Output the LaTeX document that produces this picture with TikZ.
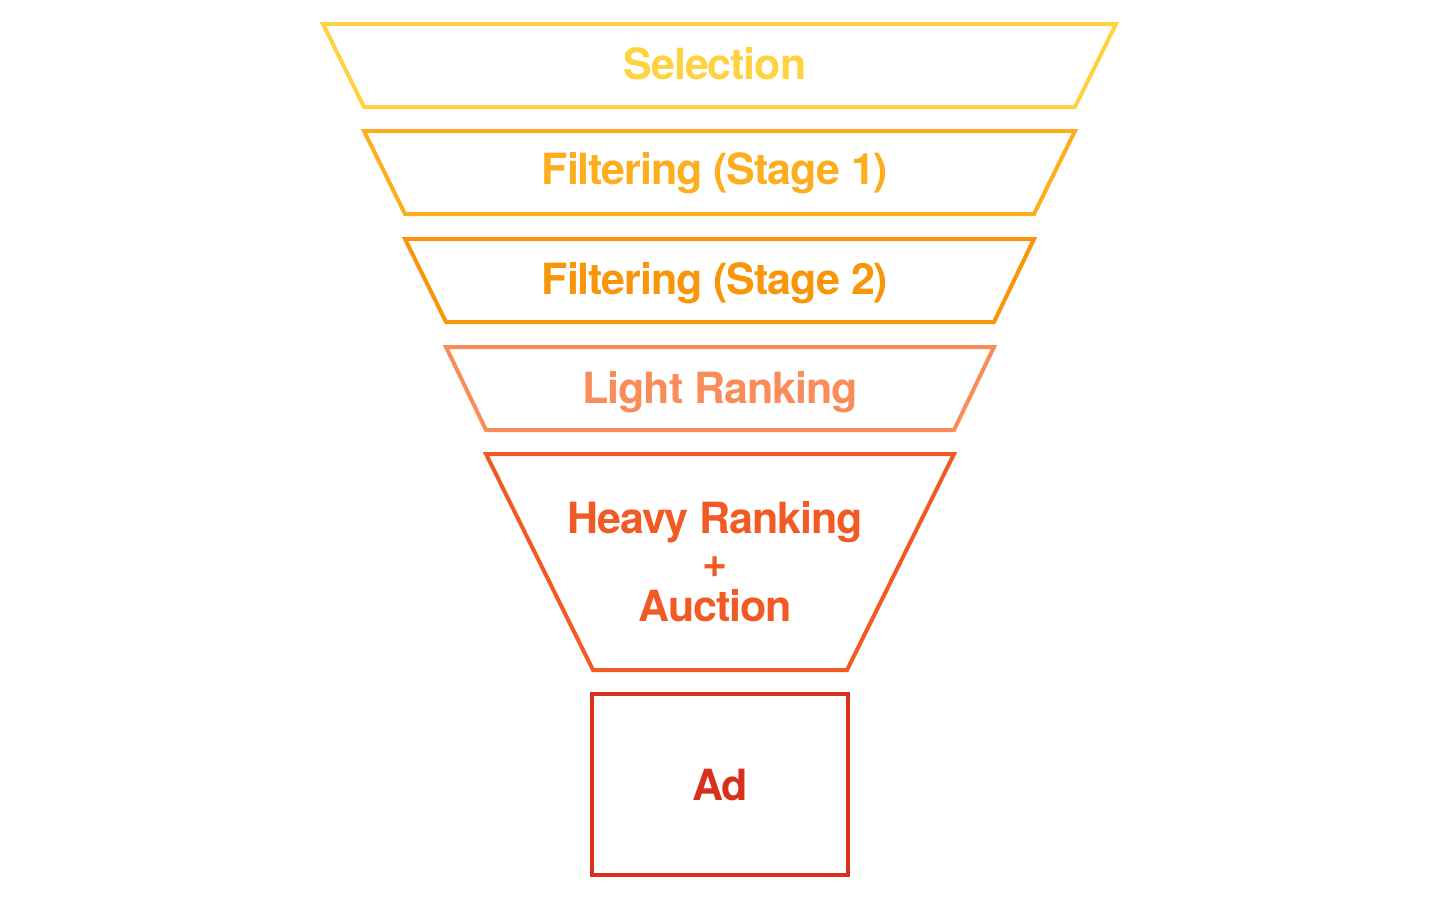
\documentclass[tikz,border=0pt]{standalone}
\usepackage{fontspec}
\setmainfont{TeX Gyre Heros}[LetterSpace=-2.5]
\usetikzlibrary{positioning}
\definecolor{selc}{HTML}{FFD23F}
\definecolor{fltA}{HTML}{FDAE1F}
\definecolor{fltB}{HTML}{F7950B}
\definecolor{lrk}{HTML}{FA8C5A}
\definecolor{hrk}{HTML}{F15A24}
\definecolor{adc}{HTML}{D9301E}
\tikzset{
  stg/.style = { line width=2pt, line join=miter },
  lbl/.style = { font=\bfseries\fontsize{21.5}{22}\selectfont, align=center, inner sep=0pt },
  caplbl/.style = { lbl, text height=15.5pt, text depth=0pt }
}
\begin{document}
\begin{tikzpicture}[x=0.5pt,y=-0.5pt]
  \useasboundingbox (0,0) rectangle (1440,900);
  % funnel, top to bottom
  \draw[stg, selc] (323,24) -- (1116,24) -- (1075,107) -- (364,107) -- cycle;
  \node[caplbl, text=selc] (sel) at (715,64) {Selection};
  \draw[stg, fltA] (364,131) -- (1075,131) -- (1034,214) -- (405,214) -- cycle;
  \node[caplbl, text=fltA] (flt1) at (715,169) {Filtering (Stage 1)};
  \draw[stg, fltB] (405,239) -- (1034,239) -- (994,322) -- (446,322) -- cycle;
  \node[caplbl, text=fltB] (flt2) at (715,279) {Filtering (Stage 2)};
  \draw[stg, lrk] (446,347) -- (994,347) -- (954,430) -- (486,430) -- cycle;
  \node[caplbl, text=lrk] (light) at (720,388) {Light Ranking};
  \draw[stg, hrk] (486,454) -- (954,454) -- (847,670) -- (593,670) -- cycle;
  \node[lbl, text=hrk] (heavy) at (715,562) {Heavy Ranking\\+\\Auction};
  % result
  \draw[stg, adc] (592,694) rectangle (848,875);
  \node[caplbl, text=adc] (ad) at (720,785) {Ad};
\end{tikzpicture}
\end{document}
